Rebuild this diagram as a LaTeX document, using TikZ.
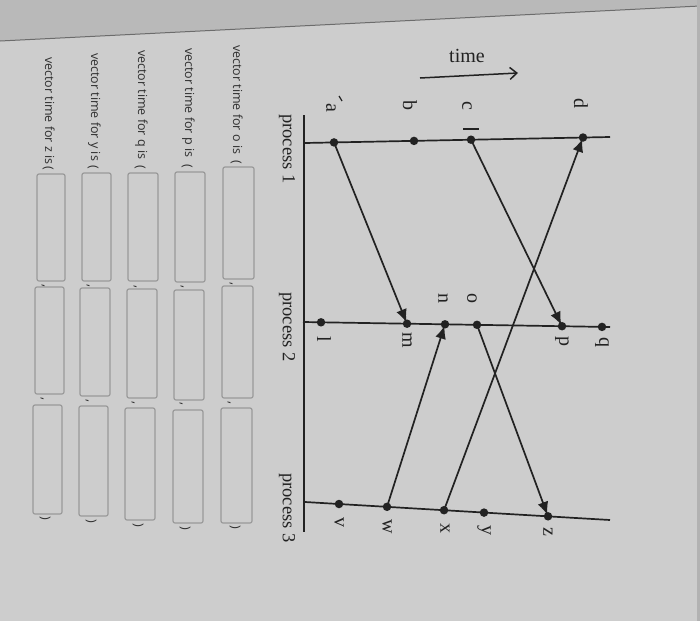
\documentclass[tikz,border=0pt]{standalone}
\usepackage{fontspec}
\setmainfont{Liberation Serif}
\newfontfamily\formfont{Open Sans}
\usetikzlibrary{arrows.meta}
\definecolor{ink}{HTML}{222222}
\definecolor{bg}{HTML}{CDCDCD}
\definecolor{band}{HTML}{B9B9B9}
\definecolor{bandline}{HTML}{6C6C6C}
\definecolor{boxc}{HTML}{9A9A9A}
\definecolor{ftc}{HTML}{2E2E2E}
\begin{document}
\begin{tikzpicture}[x=1pt,y=-1pt,
  ln/.style={line width=1.7pt, draw=ink},
  dot/.style={circle, fill=ink, inner sep=0pt, minimum size=8.5pt},
  msg/.style={line width=1.7pt, draw=ink, -{Latex[length=13pt,width=11pt]}, shorten >=1.5pt},
  lab/.style={rotate=-90, text=ink, font=\fontsize{20}{20}\selectfont, inner sep=0pt},
  plab/.style={rotate=-90, text=ink, font=\fontsize{18.5}{18.5}\selectfont, inner sep=0pt},
  fbox/.style={draw=boxc, line width=1.2pt, rounded corners=2pt, inner sep=0pt},
  ftxt/.style={rotate=-90, text=ftc, font=\formfont\fontsize{12.5}{12.5}\selectfont, inner sep=0pt, anchor=base west},
  fpun/.style={rotate=-90, text=ftc, font=\formfont\fontsize{12.5}{12.5}\selectfont, inner sep=0pt},
]
% background
\fill[bg] (0,0) rectangle (700,621);
\useasboundingbox (0,0) rectangle (700,621);
\fill[band] (0,0) -- (700,0) -- (700,6) -- (0,41) -- cycle;
\draw[bandline, line width=1pt] (0,41) -- (700,6);
\fill[black!30] (697,0) rectangle (700,621);

% time arrow
\coordinate (t1) at (420,78);
\coordinate (t2) at (518,73);
\draw[line width=1.5pt, draw=ink, -{Straight Barb[length=7pt,width=12pt]}] (t1) -- (t2);
\node[text=ink, font=\fontsize{20}{20}\selectfont, inner sep=0pt] (time) at (467,56) {time};

% left vertical line
\coordinate (v1) at (304,115);
\coordinate (v2) at (304,532);
\draw[ln] (v1) -- (v2);

% process lines
\coordinate (p1s) at (305,143); \coordinate (p1e) at (610,137);
\coordinate (p2s) at (303,322); \coordinate (p2e) at (610,327);
\coordinate (p3s) at (305,502); \coordinate (p3e) at (610,520);
\draw[ln] (p1s) -- (p1e);
\draw[ln] (p2s) -- (p2e);
\draw[ln] (p3s) -- (p3e);

\node[plab] (proc1) at (287,149) {process 1};
\node[plab] (proc2) at (287,327) {process 2};
\node[plab] (proc3) at (287,508) {process 3};

% events
\node[dot] (a) at (334,142.4) {};
\node[dot] (b) at (414,140.9) {};
\node[dot] (c) at (471,139.7) {};
\node[dot] (d) at (583,137.5) {};
\node[dot] (l) at (321,322.3) {};
\node[dot] (m) at (407,323.7) {};
\node[dot] (n) at (445,324.3) {};
\node[dot] (o) at (477,324.8) {};
\node[dot] (p) at (562,326.2) {};
\node[dot] (q) at (602,326.9) {};
\node[dot] (v) at (339,504) {};
\node[dot] (w) at (387,506.8) {};
\node[dot] (x) at (444,510.2) {};
\node[dot] (y) at (484,512.6) {};
\node[dot] (z) at (548,516.3) {};

% labels
\node[lab] (la) at (331,108) {a};
\node[lab] (lb) at (410,105) {b};
\node[lab] (lc) at (467,106) {c};
\node[lab] (ld) at (581,103) {d};
\node[lab] (ll) at (324,339) {l};
\node[lab] (lm) at (407,340) {m};
\node[lab] (ln) at (443,298) {n};
\node[lab] (lo) at (472,298) {o};
\node[lab] (lp) at (562,341) {p};
\node[lab] (lq) at (602,342) {q};
\node[lab] (lv) at (339,522) {v};
\node[lab] (lw) at (387,527) {w};
\node[lab] (lx) at (445,528) {x};
\node[lab] (ly) at (484,530) {y};
\node[lab] (lz) at (548,532) {z};
\coordinate (tk1) at (463,129); \coordinate (tk2) at (479,129);
\draw[ink, line width=1.4pt] (tk1) -- (tk2);
\coordinate (ac1) at (339,96); \coordinate (ac2) at (342,101);
\draw[ink, line width=1.2pt] (ac1) -- (ac2);

% messages
\draw[msg] (a.center) -- (m.center);
\draw[msg] (c.center) -- (p.center);
\draw[msg] (x.center) -- (d.center);
\draw[msg] (w.center) -- (n.center);
\draw[msg] (o.center) -- (z.center);

% form
\node[ftxt] (fo) at (233,45) {vector time for o is};
\node[ftxt] (fp) at (185,48) {vector time for p is};
\node[ftxt] (fq) at (138,50) {vector time for q is};
\node[ftxt] (fy) at (91,53) {vector time for y is};
\node[ftxt] (fz) at (45,57) {vector time for z is};

\node[fpun] (oo) at (236,162) {(};
\node[fpun] (op) at (187,166) {(};
\node[fpun] (oq) at (140,167) {(};
\node[fpun] (oy) at (93,167) {(};
\node[fpun] (oz) at (48,168) {(};

\node[fbox, minimum width=31pt, minimum height=112pt] (bo1) at (238.5,223) {};
\node[fbox, minimum width=31pt, minimum height=112pt] (bo2) at (237.5,342) {};
\node[fbox, minimum width=31pt, minimum height=115pt] (bo3) at (236.5,465.5) {};
\node[fbox, minimum width=30pt, minimum height=110pt] (bp1) at (190,227) {};
\node[fbox, minimum width=30pt, minimum height=110pt] (bp2) at (189,345) {};
\node[fbox, minimum width=30pt, minimum height=113pt] (bp3) at (188,466.5) {};
\node[fbox, minimum width=30pt, minimum height=108pt] (bq1) at (143,227) {};
\node[fbox, minimum width=30pt, minimum height=109pt] (bq2) at (142,343.5) {};
\node[fbox, minimum width=30pt, minimum height=112pt] (bq3) at (140,464) {};
\node[fbox, minimum width=29pt, minimum height=108pt] (by1) at (96.5,227) {};
\node[fbox, minimum width=30pt, minimum height=108pt] (by2) at (95,342) {};
\node[fbox, minimum width=29pt, minimum height=110pt] (by3) at (93.5,461) {};
\node[fbox, minimum width=28pt, minimum height=107pt] (bz1) at (51,227.5) {};
\node[fbox, minimum width=29pt, minimum height=107pt] (bz2) at (49.5,340.5) {};
\node[fbox, minimum width=29pt, minimum height=109pt] (bz3) at (47.5,459.5) {};

\node[fpun] (co1) at (231,284) {,};
\node[fpun] (co2) at (229,403) {,};
\node[fpun] (cp1) at (182,287) {,};
\node[fpun] (cp2) at (181,404) {,};
\node[fpun] (cq1) at (135,287) {,};
\node[fpun] (cq2) at (133,403) {,};
\node[fpun] (cy1) at (88,286) {,};
\node[fpun] (cy2) at (87,401) {,};
\node[fpun] (cz1) at (43,286) {,};
\node[fpun] (cz2) at (42,399) {,};

\node[fpun] (eo) at (235,527) {)};
\node[fpun] (ep) at (185,528) {)};
\node[fpun] (eq) at (138,525) {)};
\node[fpun] (ey) at (91,521) {)};
\node[fpun] (ez) at (45,518) {)};
\end{tikzpicture}
\end{document}
